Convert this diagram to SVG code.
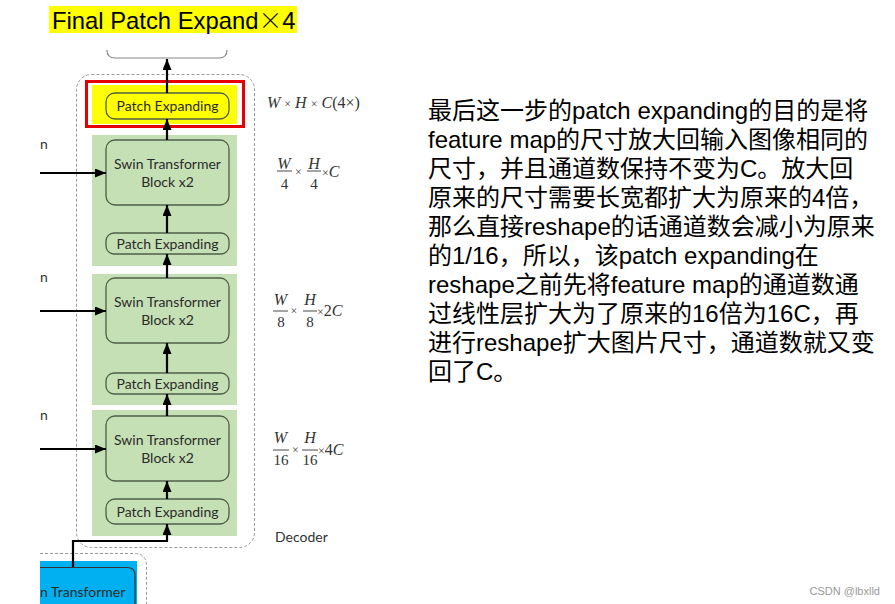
<svg xmlns="http://www.w3.org/2000/svg" width="895" height="604" viewBox="0 0 895 604">
<style>
.pill{fill:none;stroke:#4f5d49;stroke-width:1.3}
.lbl{font-family:Lato,"Liberation Sans",sans-serif;font-size:14px;fill:#2b2b2b;text-anchor:middle}
.math{font-family:"Liberation Serif",serif;font-style:italic;font-size:16px;fill:#333}
.mathn{font-family:"Liberation Serif",serif;font-size:15px;fill:#333}
.times{font-family:"Liberation Serif",serif;font-size:12px;fill:#444}
.bar{stroke:#333;stroke-width:0.9}
.conn{stroke:#000;stroke-width:2.2;fill:none}
.cn{font-family:"Liberation Sans","Noto Sans CJK SC",sans-serif;font-size:24px;fill:#000}
.green{fill:#c5e0b4}
</style>
<defs>
<marker id="ah" markerUnits="userSpaceOnUse" markerWidth="11" markerHeight="9" viewBox="0 0 11 9" refX="11" refY="4.5" orient="auto">
<path d="M0,0 L11,4.5 L0,9 Z" fill="#000"/>
</marker>
</defs>

<g id="title">
<rect x="49" y="6" width="248" height="27" fill="#ffff00"/>
<text x="52" y="29" font-family="'Liberation Sans',sans-serif" font-size="23.8px" fill="#000">Final Patch Expand<tspan font-family="'Noto Sans CJK SC',sans-serif" font-weight="300">×</tspan>4</text>
</g>

<g id="top-box">
<path d="M107,50 Q107,58 115,58 L219,58 Q227,58 227,50" fill="none" stroke="#888" stroke-width="1.2"/>
</g>

<g id="decoder-frame">
<rect x="76.5" y="74.5" width="178" height="473" rx="15" fill="none" stroke="#9a9a9a" stroke-width="1" stroke-dasharray="3 2"/>
<text x="275" y="542" font-family="Lato,'Liberation Sans',sans-serif" font-size="14px" fill="#333">Decoder</text>
</g>

<g id="final-patch-expanding">
<rect x="92" y="85" width="145" height="39" fill="#ffff00"/>
<rect x="106" y="93" width="123" height="26" rx="9" class="pill"/>
<text x="167.5" y="111" class="lbl">Patch Expanding</text>
<rect x="86.5" y="81.5" width="157" height="45" fill="none" stroke="#e60000" stroke-width="3"/>
</g>

<g id="stage1">
<rect x="92" y="135" width="145" height="131" class="green"/>
<rect x="106" y="140" width="123" height="65" rx="9" class="pill"/>
<text x="167.5" y="169" class="lbl">Swin Transformer</text>
<text x="167.5" y="187" class="lbl">Block x2</text>
<rect x="106" y="233" width="123" height="21" rx="8" class="pill"/>
<text x="167.5" y="249" class="lbl">Patch Expanding</text>
</g>

<g id="stage2">
<rect x="92" y="274" width="145" height="131" class="green"/>
<rect x="106" y="278" width="123" height="65" rx="9" class="pill"/>
<text x="167.5" y="307" class="lbl">Swin Transformer</text>
<text x="167.5" y="325" class="lbl">Block x2</text>
<rect x="106" y="373" width="123" height="21" rx="8" class="pill"/>
<text x="167.5" y="389" class="lbl">Patch Expanding</text>
</g>

<g id="stage3">
<rect x="92" y="410" width="145" height="126" class="green"/>
<rect x="106" y="416" width="123" height="65" rx="9" class="pill"/>
<text x="167.5" y="445" class="lbl">Swin Transformer</text>
<text x="167.5" y="463" class="lbl">Block x2</text>
<rect x="106" y="499" width="123" height="25" rx="9" class="pill"/>
<text x="167.5" y="517" class="lbl">Patch Expanding</text>
</g>

<g id="encoder-block">
<path d="M40,553.5 L134,553.5 Q146.5,553.5 146.5,566 L146.5,604" fill="none" stroke="#9a9a9a" stroke-width="1" stroke-dasharray="3 2"/>
<rect x="40" y="561" width="97" height="43" fill="#00b0f0"/>
<path d="M40,567.5 L127,567.5 Q135,567.5 135,575 L135,604" fill="none" stroke="#333" stroke-width="1.2"/>
<text x="40" y="597" font-family="Lato,'Liberation Sans',sans-serif" font-size="14px" fill="#2b2b2b">n Transformer</text>
</g>

<g id="side-labels">
<text x="40" y="149" font-family="Lato,'Liberation Sans',sans-serif" font-size="14px" fill="#333">n</text>
<text x="40" y="282" font-family="Lato,'Liberation Sans',sans-serif" font-size="14px" fill="#333">n</text>
<text x="40" y="420" font-family="Lato,'Liberation Sans',sans-serif" font-size="14px" fill="#333">n</text>
</g>

<g id="connectors">
<line x1="167" y1="93" x2="167" y2="59" class="conn" marker-end="url(#ah)"/>
<line x1="167" y1="140" x2="167" y2="119" class="conn" marker-end="url(#ah)"/>
<line x1="167" y1="233" x2="167" y2="205" class="conn" marker-end="url(#ah)"/>
<line x1="167" y1="278" x2="167" y2="254" class="conn" marker-end="url(#ah)"/>
<line x1="167" y1="373" x2="167" y2="343" class="conn" marker-end="url(#ah)"/>
<line x1="167" y1="416" x2="167" y2="394" class="conn" marker-end="url(#ah)"/>
<line x1="167" y1="499" x2="167" y2="481" class="conn" marker-end="url(#ah)"/>
<path d="M73,567 L73,541 L167,541 L167,524" class="conn" marker-end="url(#ah)"/>
<line x1="40" y1="173" x2="106" y2="173" class="conn" marker-end="url(#ah)"/>
<line x1="40" y1="311" x2="106" y2="311" class="conn" marker-end="url(#ah)"/>
<line x1="40" y1="449" x2="106" y2="449" class="conn" marker-end="url(#ah)"/>
</g>

<g id="dims">
<text x="267" y="108" class="math">W <tspan class="times" font-style="normal">×</tspan> H <tspan class="times" font-style="normal">×</tspan> C<tspan font-style="normal">(4×)</tspan></text>

<text x="284" y="169" class="math" text-anchor="middle">W</text>
<line x1="277" y1="171" x2="292" y2="171" class="bar"/>
<text x="284.5" y="189" class="mathn" text-anchor="middle">4</text>
<text x="298.5" y="176" class="times" text-anchor="middle">×</text>
<text x="314" y="169" class="math" text-anchor="middle">H</text>
<line x1="307" y1="171" x2="321" y2="171" class="bar"/>
<text x="314" y="189" class="mathn" text-anchor="middle">4</text>
<text x="322" y="177" class="math"><tspan class="times" font-style="normal">×</tspan>C</text>

<text x="280.5" y="305" class="math" text-anchor="middle">W</text>
<line x1="273" y1="311" x2="288" y2="311" class="bar"/>
<text x="281" y="327" class="mathn" text-anchor="middle">8</text>
<text x="294" y="315" class="times" text-anchor="middle">×</text>
<text x="310" y="305" class="math" text-anchor="middle">H</text>
<line x1="303" y1="311" x2="317" y2="311" class="bar"/>
<text x="310" y="327" class="mathn" text-anchor="middle">8</text>
<text x="317" y="316" class="math"><tspan class="times" font-style="normal">×</tspan><tspan font-style="normal">2</tspan>C</text>

<text x="280.5" y="443" class="math" text-anchor="middle">W</text>
<line x1="273" y1="450" x2="289" y2="450" class="bar"/>
<text x="281" y="465" class="mathn" text-anchor="middle">16</text>
<text x="295.5" y="454" class="times" text-anchor="middle">×</text>
<text x="310" y="443" class="math" text-anchor="middle">H</text>
<line x1="302" y1="450" x2="318" y2="450" class="bar"/>
<text x="310" y="465" class="mathn" text-anchor="middle">16</text>
<text x="318" y="455" class="math"><tspan class="times" font-style="normal">×</tspan><tspan font-style="normal">4</tspan>C</text>
</g>

<g id="explanation">
<text x="428" y="119" class="cn">最后这一步的patch expanding的目的是将</text>
<text x="428" y="148" class="cn">feature map的尺寸放大回输入图像相同的</text>
<text x="428" y="177" class="cn">尺寸，并且通道数保持不变为C。放大回</text>
<text x="428" y="206" class="cn">原来的尺寸需要长宽都扩大为原来的4倍，</text>
<text x="428" y="235" class="cn">那么直接reshape的话通道数会减小为原来</text>
<text x="428" y="264" class="cn">的1/16，所以，该patch expanding在</text>
<text x="428" y="293" class="cn">reshape之前先将feature map的通道数通</text>
<text x="428" y="322" class="cn">过线性层扩大为了原来的16倍为16C，再</text>
<text x="428" y="351" class="cn">进行reshape扩大图片尺寸，通道数就又变</text>
<text x="428" y="380" class="cn">回了C。</text>
</g>

<g id="watermark">
<text x="880" y="595" text-anchor="end" font-family="'Liberation Sans',sans-serif" font-size="11px" fill="#999">CSDN @lbxlld</text>
</g>
</svg>
